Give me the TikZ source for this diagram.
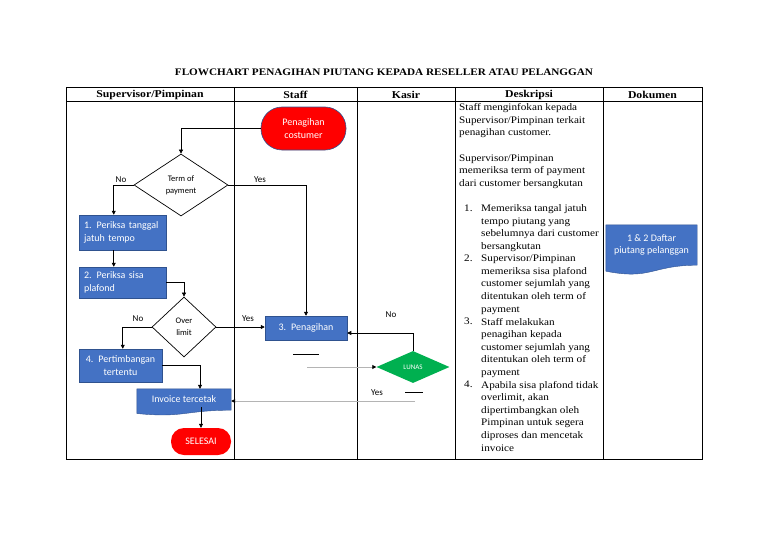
\documentclass[tikz,border=0pt]{standalone}
\usepackage{fontspec}
\setmainfont[FakeStretch=1.12]{Liberation Serif}
\newfontfamily\calfont{Carlito}
\usetikzlibrary{arrows.meta,shapes.geometric,calc}
\pgfdeclarelayer{bg}
\pgfsetlayers{bg,main}
\definecolor{pblue}{HTML}{4472C4}
\definecolor{pblueb}{HTML}{2F528F}
\definecolor{pred}{HTML}{FF0000}
\definecolor{pgreen}{HTML}{00B050}
\definecolor{lgray}{HTML}{B4B4B4}
\begin{document}
\begin{tikzpicture}[x=1pt,y=-1pt,
  tbl/.style={line width=0.9pt},
  hdr/.style={font=\bfseries\fontsize{10.5}{12}\selectfont},
  fc/.style={font=\calfont\fontsize{10}{12.5}\selectfont},
  proc/.style={fc,rectangle,fill=pblue,draw=pblueb,line width=0.5pt,text=white,inner xsep=5pt,inner ysep=0pt},
  pill/.style={fc,rectangle,rounded corners=#1,fill=pred,text=white,inner sep=0pt,align=center},
  dec/.style={diamond,draw=black,line width=0.7pt,fill=white,inner sep=0pt,align=center,font=\calfont\fontsize{8.5}{12}\selectfont},
  docnode/.style={fc,rectangle,inner sep=0pt,text=white,align=center},
  con/.style={line width=0.6pt,-{Triangle[length=4pt,width=4pt]}},
  gcon/.style={line width=0.8pt,draw=lgray,-{Triangle[length=4pt,width=4pt,color=black]}},
  lbl/.style={font=\calfont\fontsize{9}{10}\selectfont},
  desc/.style={anchor=north west,align=left,inner sep=0pt,font=\fontsize{10}{12.6}\selectfont}
]
\useasboundingbox (0,0) rectangle (768,543);

% title
\node[font=\bfseries\fontsize{10}{12}\selectfont] (title) at (384,72) {FLOWCHART PENAGIHAN PIUTANG KEPADA RESELLER ATAU PELANGGAN};

% table
\draw[tbl] (66,87) rectangle (702,459);
\draw[tbl] (66,101) -- (702,101);
\foreach \x in {234,357,455,603} \draw[tbl] (\x,87) -- (\x,459);
\node[hdr] (h1) at (150,94.5) {Supervisor/Pimpinan};
\node[hdr] (h2) at (295.5,94.5) {Staff};
\node[hdr] (h3) at (406,94.5) {Kasir};
\node[hdr] (h4) at (529,94.5) {Deskripsi};
\node[hdr] (h5) at (652.5,94.5) {Dokumen};

% nodes
\node[pill=21pt,draw=pblueb,line width=0.6pt,minimum width=85pt,minimum height=43pt] (pc) at (303.5,128.5) {Penagihan\\costumer};
\node[dec,minimum width=94pt,minimum height=62pt] (top) at (181,185) {Term of\\payment};
\node[proc,minimum width=87pt,minimum height=35pt,text width=77pt,align=left] (b1) at (122.5,232.5) {1. Periksa tanggal\\jatuh tempo};
\node[proc,minimum width=87pt,minimum height=31pt,text width=77pt,align=left] (b2) at (122.5,282.5) {2. Periksa sisa\\plafond};
\node[dec,minimum width=64pt,minimum height=60pt] (ol) at (184,327) {Over\\limit};
\node[proc,minimum width=83pt,minimum height=33pt,text width=73pt,align=center] (b4) at (120.5,365.5) {4. Pertimbangan\\tertentu};
\node[proc,minimum width=82pt,minimum height=24pt,text width=72pt,align=center] (b3) at (306,328) {3. Penagihan};
\node[diamond,fill=pgreen,minimum width=73pt,minimum height=32pt,inner sep=0pt,text=white,font=\calfont\fontsize{7}{8}\selectfont] (lu) at (413,367) {LUNAS};
\node[docnode,minimum width=94pt,minimum height=21pt] (inv) at (184,399.5) {Invoice tercetak};
\node[pill=13pt,minimum width=60pt,minimum height=27pt] (sel) at (201,441.5) {SELESAI};
\node[docnode,minimum width=91pt,minimum height=40pt] (dok) at (651.5,245) {1 \& 2 Daftar\\piutang pelanggan};

\begin{pgfonlayer}{bg}
\filldraw[fill=pblue,draw=pblueb,line width=0.4pt] (inv.north west) -- (inv.north east) -- (inv.south east)
  .. controls (inv.south) and ($(inv.south)+(0,8)$) .. ($(inv.south west)+(0,3.3)$) -- cycle;
\filldraw[fill=pblue,draw=pblueb,line width=0.4pt] (dok.north west) -- (dok.north east) -- (dok.south east)
  .. controls (dok.south) and ($(dok.south)+(0,15)$) .. ($(dok.south west)+(0,6)$) -- cycle;
\end{pgfonlayer}

% connectors
\draw[con] (pc.west) -| (top.north);
\draw[con] (top.west) -| ([xshift=35pt]b1.north west);
\node[lbl] (no1) at (121,180) {No};
\draw[con] (top.east) -| (b3.north);
\node[lbl] (yes1) at (260,179.5) {Yes};
\draw[con] ([xshift=35pt]b1.south west) -- ([xshift=35pt]b2.north west);
\draw[con] (b2.east) -| (ol.north);
\draw[con] (ol.west) -| ([xshift=44pt]b4.north west);
\node[lbl] (no2) at (138,319) {No};
\draw[con] (ol.east) -- (b3.west |- ol.east);
\node[lbl] (yes2) at (248,319) {Yes};
\draw[con] (b4.east) -| ([xshift=16pt]inv.north);
\draw[con] ([yshift=3pt]sel.north |- inv.south) -- (sel.north);
\draw[con] (lu.north) |- ([yshift=-5pt]b3.east);
\node[lbl] (no3) at (391,315) {No};
\coordinate (g1) at (307,367);
\draw[gcon] (g1) -- (lu.west);
\coordinate (g2) at (415,401);
\draw[gcon] (g2) -- (g2 -| inv.east);
\node[lbl] (yes3) at (377,393) {Yes};
% stray short lines
\coordinate (s1a) at (293,354); \coordinate (s1b) at (319,354);
\draw[line width=0.7pt] (s1a) -- (s1b);
\coordinate (s2a) at (405,392); \coordinate (s2b) at (423,392);
\draw[line width=0.7pt] (s2a) -- (s2b);

% description
\node[desc] (d1) at (459,103.5) {Staff menginfokan kepada\\Supervisor/Pimpinan terkait\\penagihan customer.};
\node[desc] (d2) at (459,154.5) {Supervisor/Pimpinan\\memeriksa term of payment\\dari customer bersangkutan};
\node[desc] (n1) at (464,204.5) {1.};
\node[desc] (t1) at (481,204.5) {Memeriksa tangal jatuh\\tempo piutang yang\\sebelumnya dari customer\\bersangkutan};
\node[desc] (n2) at (464,254.9) {2.};
\node[desc] (t2) at (481,254.9) {Supervisor/Pimpinan\\memeriksa sisa plafond\\customer sejumlah yang\\ditentukan oleh term of\\payment};
\node[desc] (n3) at (464,317.9) {3.};
\node[desc] (t3) at (481,317.9) {Staff melakukan\\penagihan kepada\\customer sejumlah yang\\ditentukan oleh term of\\payment};
\node[desc] (n4) at (464,380.9) {4.};
\node[desc] (t4) at (481,380.9) {Apabila sisa plafond tidak\\overlimit, akan\\dipertimbangkan oleh\\Pimpinan untuk segera\\diproses dan mencetak\\invoice};
\end{tikzpicture}
\end{document}
